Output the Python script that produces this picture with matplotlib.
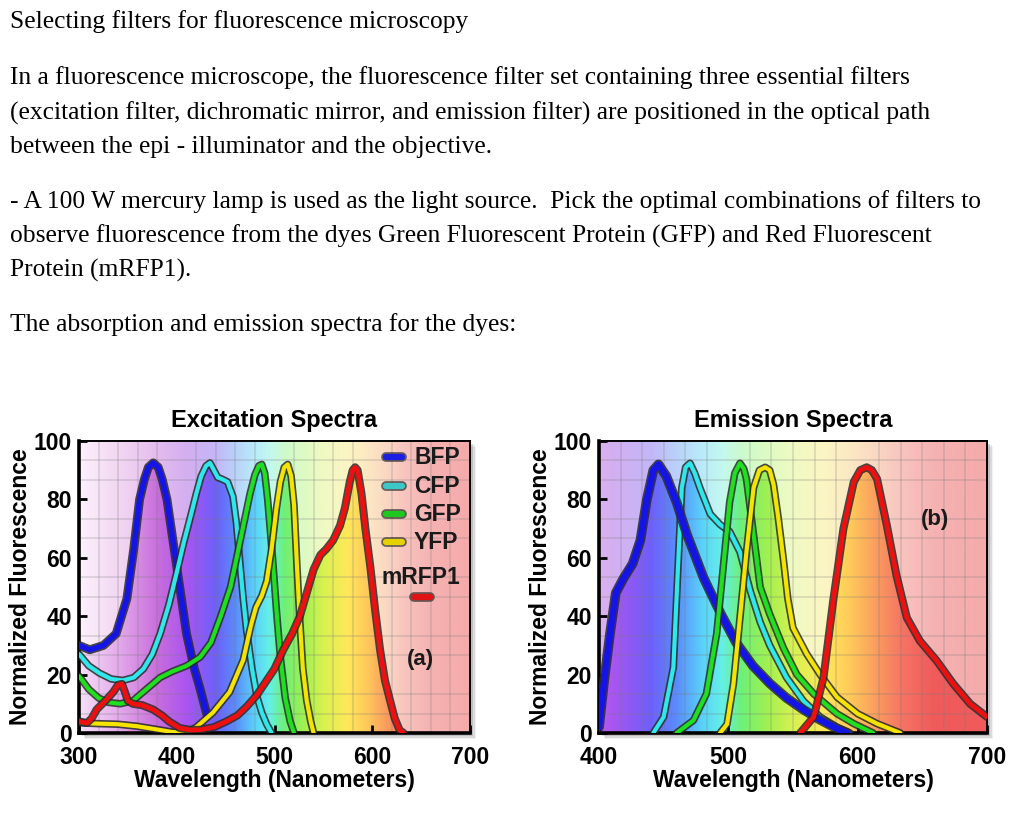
import numpy as np
import matplotlib
matplotlib.use("Agg")
import matplotlib.pyplot as plt
import matplotlib.patheffects as pe
from matplotlib.patches import Polygon, Rectangle

# ---- question text ----
text_lines = [
    "Selecting filters for fluorescence microscopy",
    "In a fluorescence microscope, the fluorescence filter set containing three essential filters",
    "(excitation filter, dichromatic mirror, and emission filter) are positioned in the optical path",
    "between the epi - illuminator and the objective.",
    "- A 100 W mercury lamp is used as the light source.  Pick the optimal combinations of filters to",
    "observe fluorescence from the dyes Green Fluorescent Protein (GFP) and Red Fluorescent",
    "Protein (mRFP1).",
    "The absorption and emission spectra for the dyes:",
]
text_y = [22, 78, 113, 147, 202, 236, 270, 325]

# ---- excitation spectra (nm, normalized %) ----
bfp_ex_x = [300, 311, 325, 338, 349, 356, 362, 367, 371, 376, 381, 385, 390, 400, 410, 418, 424, 431]
bfp_ex_y = [30, 28.5, 30, 34, 46, 63, 80, 87, 91, 92.5, 91, 87, 80, 57, 34, 22, 15, 6]

cfp_ex_x = [300, 310, 321, 333, 345, 356, 366, 375, 383, 392, 400, 407, 414, 420, 425, 430,
            434, 438, 442, 446, 452, 457.5, 461, 464.7, 468, 471.5, 477, 482, 487, 492, 497]
cfp_ex_y = [27, 23, 20.5, 18.5, 18, 19, 22, 27, 34, 44, 55, 65, 74, 82, 88, 91.5,
            92.5, 90, 87.5, 87, 86, 81, 72, 58, 46, 35, 22, 12.5, 7, 3, 0]

gfp_ex_x = [300, 310, 320, 330, 342, 355, 369, 383, 395, 410, 424, 435, 445, 455, 465,
            475, 480, 484, 487, 490, 493, 498, 502, 506, 511, 516, 520]
gfp_ex_y = [19.5, 15, 12, 10.5, 10, 11, 15, 19, 21, 23, 26, 31, 40, 50, 66,
            82, 88.5, 91.5, 92, 89, 80, 60, 42, 26, 12, 4, 0]

yfp_ex_x = [300, 320, 340, 360, 380, 396, 410, 420, 437, 454, 468, 476, 481, 487, 492,
            497, 502, 506, 510, 513.5, 517, 520, 523, 526, 529, 533, 537, 540]
yfp_ex_y = [3.5, 3.2, 3, 2.3, 1.2, 0.3, 0.3, 2, 7, 14, 25, 37, 43, 47, 52,
            63, 77, 86, 91, 92, 88, 78, 57, 38, 22, 11, 4, 0]

rfp_ex_x = [300, 308, 313, 318, 328, 335, 340, 344, 347, 350, 355, 365, 376, 385, 392,
            403, 415, 424, 438, 451, 462, 471.5, 482, 492, 500, 509, 518, 526, 533, 540,
            547, 553, 560, 567, 572, 577, 580, 582.5, 585, 589, 593, 598, 603, 608, 613, 618,
            623, 628, 632]
rfp_ex_y = [4, 3.4, 5, 8, 11.4, 14, 16.5, 16.8, 14, 11, 10, 9.5, 8, 6, 4,
            1.7, 1, 1.1, 2, 4, 6, 9, 13, 18, 22, 28.5, 34, 40, 48, 56,
            61, 63, 66, 71, 77, 86, 90, 91, 90, 82, 70, 57, 42, 28.5, 18, 11.4,
            5, 1, 0]

# ---- emission spectra (nm, normalized %) ----
bfp_em_x = [400, 404, 408.5, 413, 419, 426, 432, 437, 442, 446, 452, 460, 468, 481, 494,
            506, 519, 532, 545, 558, 571, 584, 592]
bfp_em_y = [2, 18, 34, 48, 53, 58, 66, 80, 90, 92, 88, 79, 68, 53, 41,
            31, 23, 17, 12, 8, 4.5, 1.5, 0]

cfp_em_x = [442, 450, 457.5, 461, 464, 467, 470.4, 474, 478, 486, 493.6, 501, 509, 517,
            524.6, 532, 545, 558, 571, 584, 594]
cfp_em_y = [0, 5.5, 22.5, 56, 84, 91, 92.4, 89, 84, 75, 71.4, 69, 62, 48.6,
            38, 30, 19, 11, 5.5, 2, 0]

gfp_em_x = [460, 473, 483, 491, 496, 501, 505, 509, 512, 514, 519.5, 524.6, 532, 542.7, 553,
            566, 584, 597, 612]
gfp_em_y = [0, 4.3, 13.4, 34, 56.6, 79, 89, 92.4, 90.5, 87, 68, 50, 40.7, 29, 20,
            13.4, 6.6, 3.2, 0]

yfp_em_x = [493.6, 499, 504, 509, 514, 519.5, 524, 528.5, 532, 535, 538.5, 542.7, 546,
            550, 560.7, 571, 584, 600, 615, 633]
yfp_em_y = [0, 3, 17, 39.5, 62, 84, 90, 91, 90, 85, 74, 59, 46,
            36, 27, 20, 12.3, 6.6, 3.2, 0]

rfp_em_x = [555.6, 566, 573.6, 581, 589, 597, 602, 607, 611, 615, 622.6, 630, 638, 648,
            661, 674, 687, 700]
rfp_em_y = [0, 5.5, 19, 45, 70, 86, 90, 91, 90, 87, 71, 54, 39.5, 31.6,
            24.8, 16.8, 10, 5.5]

dye_names = ["BFP", "CFP", "GFP", "YFP", "mRFP1"]
dye_colors = ["#1414e6", "#2ee8ec", "#1ee01e", "#f5e400", "#ee1010"]
legend_colors = ["#1e1ee0", "#3cc8c8", "#1ec81e", "#e6d200", "#e01414"]

# ---- background colour stops (wavelength, rgb) ----
wl_stops = [300, 340, 380, 410, 440, 460, 480, 495, 510, 530, 550, 575, 595, 615, 635, 660, 700]
pale_rgb = np.array([
    (252, 242, 252), (242, 215, 242), (228, 188, 238), (212, 175, 240), (195, 182, 248),
    (185, 210, 250), (185, 235, 250), (195, 248, 240), (205, 250, 205), (222, 250, 195),
    (240, 250, 195), (252, 245, 195), (252, 232, 195), (250, 215, 195), (248, 195, 190),
    (245, 178, 178), (245, 170, 170)]) / 255.0
sat_rgb = np.array([
    (245, 225, 248), (228, 170, 235), (200, 110, 220), (170, 85, 240), (110, 95, 250),
    (90, 140, 250), (90, 210, 250), (100, 240, 230), (110, 240, 120), (160, 240, 80),
    (215, 242, 80), (255, 232, 90), (255, 200, 90), (250, 155, 95), (245, 115, 100),
    (240, 90, 90), (240, 90, 90)]) / 255.0

plt.rcParams["font.family"] = ["Liberation Sans", "DejaVu Sans"]
plt.rcParams["font.weight"] = "bold"
plt.rcParams["axes.labelweight"] = "bold"
plt.rcParams["axes.titleweight"] = "bold"


def gradient(stops_rgb, x0, x1):
    xs = np.linspace(x0, x1, 800)
    rgb = np.stack([np.interp(xs, wl_stops, stops_rgb[:, k]) for k in range(3)], axis=-1)
    return rgb[None, :, :]


def draw_panel(ax, curves, x0, x1, grid_step, title):
    ext = [x0, x1, 0, 100]
    ax.imshow(gradient(pale_rgb, x0, x1), extent=ext, aspect="auto", zorder=0,
              interpolation="bilinear")
    for x, y, color, lw in curves:
        poly = Polygon(np.column_stack([np.r_[x[0], x, x[-1]], np.r_[0, y, 0]]),
                       closed=True, transform=ax.transData, fc="none", ec="none")
        im = ax.imshow(gradient(sat_rgb, x0, x1), extent=ext, aspect="auto", zorder=1,
                       interpolation="bilinear")
        im.set_clip_path(poly)
    for x, y, color, lw in curves:
        ax.plot(x, y, color=color, lw=lw, zorder=3, solid_joinstyle="round",
                solid_capstyle="round",
                path_effects=[pe.Stroke(linewidth=lw + 2.4, foreground="#2a2a2a", alpha=0.85),
                              pe.Normal()])
    ax.set_xlim(x0, x1)
    ax.set_ylim(0, 100)
    ax.set_xticks(np.arange(x0, x1 + 1, 100))
    ax.set_yticks(np.arange(0, 101, 20))
    ax.set_xticks(np.arange(x0, x1 + 0.1, grid_step), minor=True)
    ax.set_yticks(np.linspace(0, 100, 16), minor=True)
    ax.tick_params(which="minor", length=0)
    ax.tick_params(which="major", direction="in", length=6, width=2, labelsize=16.5)
    ax.tick_params(axis="x", which="major", pad=9)
    ax.tick_params(axis="y", which="major", pad=5)
    ax.grid(which="minor", color="#7a7a7a", alpha=0.25, lw=1.2)
    ax.set_axisbelow("line")
    for side in ["left", "bottom"]:
        ax.spines[side].set_linewidth(2.6)
    for side in ["top", "right"]:
        ax.spines[side].set_linewidth(1.4)
    ax.set_xlabel("Wavelength (Nanometers)", fontsize=16.5, labelpad=0)
    ax.set_ylabel("Normalized Fluorescence", fontsize=16.5, labelpad=1)
    ax.set_title(title, fontsize=17, pad=10)


fig = plt.figure(figsize=(10.24, 8.22), dpi=100)
for t, y in zip(text_lines, text_y):
    fig.text(10 / 1024, 1 - y / 822, t, va="center", ha="left", fontsize=18.4,
             family=["Liberation Serif", "DejaVu Serif"], weight="normal")

ax1 = fig.add_axes([79 / 1024, 1 - 733 / 822, 391 / 1024, 292 / 822])
ax2 = fig.add_axes([599 / 1024, 1 - 733 / 822, 388 / 1024, 292 / 822])

ex_curves = [
    (bfp_ex_x, bfp_ex_y, dye_colors[0], 4.0),
    (cfp_ex_x, cfp_ex_y, dye_colors[1], 3.0),
    (gfp_ex_x, gfp_ex_y, dye_colors[2], 3.0),
    (yfp_ex_x, yfp_ex_y, dye_colors[3], 3.0),
    (rfp_ex_x, rfp_ex_y, dye_colors[4], 3.4),
]
em_curves = [
    (cfp_em_x, cfp_em_y, dye_colors[1], 3.0),
    (bfp_em_x, bfp_em_y, dye_colors[0], 4.6),
    (gfp_em_x, gfp_em_y, dye_colors[2], 3.0),
    (yfp_em_x, yfp_em_y, dye_colors[3], 3.0),
    (rfp_em_x, rfp_em_y, dye_colors[4], 3.4),
]
draw_panel(ax1, ex_curves, 300, 700, 20, "Excitation Spectra")
draw_panel(ax2, em_curves, 400, 700, 300 / 18, "Emission Spectra")

# legend drawn in axes fraction
leg_y = [0.945, 0.845, 0.749, 0.653]
for name, c, y in zip(dye_names[:4], legend_colors[:4], leg_y):
    ax1.plot([0.785, 0.826], [y, y], transform=ax1.transAxes, color=c, lw=4.5,
             solid_capstyle="round", zorder=5,
             path_effects=[pe.Stroke(linewidth=7, foreground="#2a2a2a", alpha=0.7), pe.Normal()])
    ax1.text(0.857, y, name, transform=ax1.transAxes, fontsize=16.5, va="center",
             ha="left", color="#1a1a1a", zorder=5)
ax1.text(0.875, 0.533, dye_names[4], transform=ax1.transAxes, fontsize=16.5,
         va="center", ha="center", color="#1a1a1a", zorder=5)
ax1.plot([0.858, 0.897], [0.467, 0.467], transform=ax1.transAxes, color=legend_colors[4],
         lw=4.5, solid_capstyle="round", zorder=5,
         path_effects=[pe.Stroke(linewidth=7, foreground="#2a2a2a", alpha=0.7), pe.Normal()])
ax1.text(0.872, 0.251, "(a)", transform=ax1.transAxes, fontsize=16, va="center",
         ha="center", color="#1a1a1a", zorder=5)
ax2.text(0.866, 0.731, "(b)", transform=ax2.transAxes, fontsize=16, va="center",
         ha="center", color="#1a1a1a", zorder=5)

# soft drop shadow behind each frame
for ax in (ax1, ax2):
    b = ax.get_position()
    for off, a in [(6, 0.06), (4.5, 0.09), (3, 0.12)]:
        fig.patches.append(Rectangle((b.x0 + off / 1024, b.y0 - off / 822), b.width, b.height,
                                     transform=fig.transFigure, fc="black", alpha=a,
                                     ec="none", zorder=-1))

fig.savefig("out.png", dpi=100, facecolor="white")
